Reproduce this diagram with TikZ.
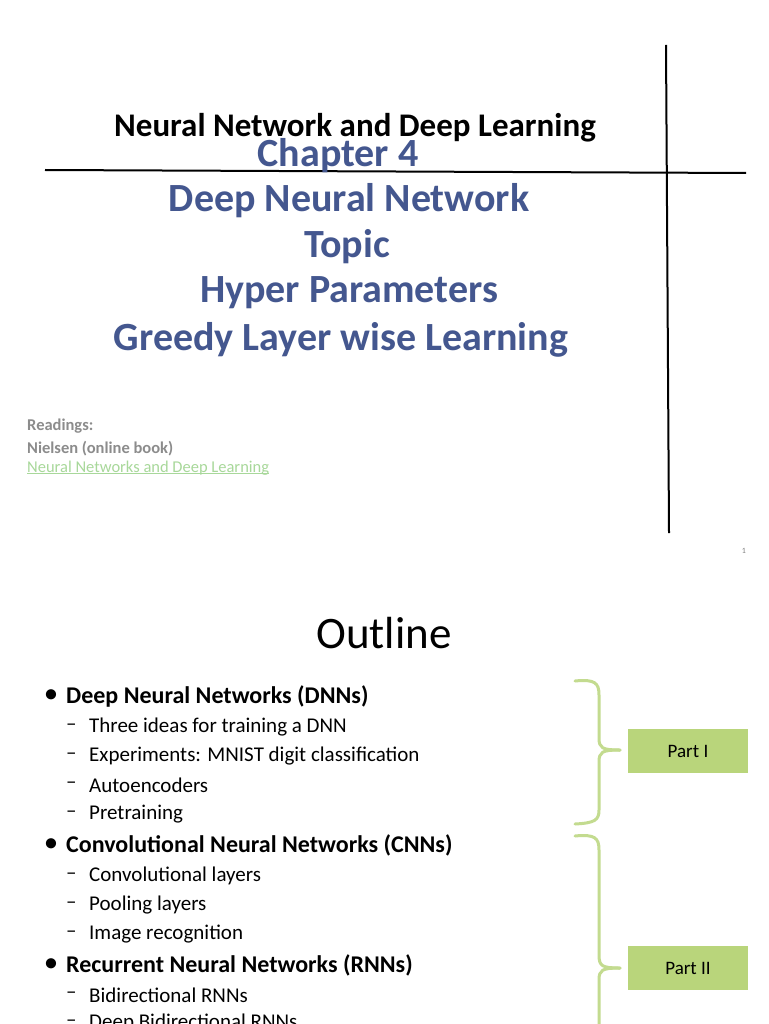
\documentclass[tikz,border=0pt]{standalone}
\usepackage{fontspec}
\setmainfont{Carlito}
\begin{document}
\begin{tikzpicture}[x=1pt,y=-1pt,
  ttl/.style={text=titleblue,font=\fontsize{40}{44}\selectfont\bfseries,inner sep=0},
  bul/.style={anchor=west,font=\fontsize{24}{28}\selectfont\bfseries,inner sep=0},
  sub/.style={anchor=west,font=\fontsize{21}{24}\selectfont,inner sep=0},
  brace/.style={draw=partgreen!85!white,line width=3pt,line cap=round},
  partbox/.style={fill=partgreen,minimum width=120pt,minimum height=44pt,font=\fontsize{19}{22}\selectfont,inner sep=0},
  read/.style={anchor=west,text=gray!90,font=\fontsize{16.5}{19}\selectfont\bfseries,inner sep=0}]
\definecolor{titleblue}{HTML}{44578F}
\definecolor{partgreen}{HTML}{B9D57B}
\definecolor{linkgreen}{HTML}{A8D89A}
\useasboundingbox (0,0) rectangle (768,1024);
\fill[white] (0,0) rectangle (768,1024);
\coordinate (v1) at (666,45); \coordinate (v2) at (669,533);
\coordinate (h1) at (45,170); \coordinate (h2) at (746,173);
\draw[line width=2pt] (v1) -- (v2);
\draw[line width=2pt] (h1) -- (h2);
\node[font=\fontsize{33}{36}\selectfont\bfseries,inner sep=0] (t0) at (355,128) {Neural Network and Deep Learning};
\node[ttl] (t1) at (338,156) {Chapter 4};
\node[ttl] (t2) at (349,201) {Deep Neural Network};
\node[ttl] (t3) at (347,247) {Topic};
\node[ttl] (t4) at (349,293) {Hyper Parameters};
\node[ttl] (t5) at (341,340) {Greedy Layer wise Learning};
\node[read] (r1) at (27,426) {Readings:};
\node[read] (r2) at (27,449) {Nielsen (online book)};
\node[read,text=linkgreen,font=\fontsize{16.5}{19}\selectfont] (r3) at (27,468) {Neural Networks and Deep Learning};
\draw[linkgreen,line width=0.8pt] ([yshift=1.5pt]r3.south west) -- ([yshift=1.5pt]r3.south east);
\node[font=\fontsize{8}{9}\selectfont,text=gray] (pg) at (744,551) {1};
\node[font=\fontsize{45}{50}\selectfont,inner sep=0] (out) at (384,633) {Outline};
\foreach \y/\t [count=\i] in {696/Deep Neural Networks (DNNs),845/Convolutional Neural Networks (CNNs),965/Recurrent Neural Networks (RNNs)}{
  \node[bul] (bd\i) at (45,\y) {•};
  \node[bul] (b\i) at (66,\y) {\t};}
\foreach \y/\t [count=\i] in {727/Three ideas for training a DNN,756/Experiments: MNIST digit classification,785/Autoencoders,814/Pretraining,876/Convolutional layers,905/Pooling layers,934/Image recognition,995/Bidirectional RNNs,1023/Deep Bidirectional RNNs}{
  \node[sub] (sd\i) at (66,\y) {–};
  \node[sub] (s\i) at (89,\y) {\t};}
\node[partbox] (p1) at (688,751) {Part I};
\node[partbox] (p2) at (688,968) {Part II};
\draw[brace] (575,681) .. controls (595,679) and (599,683) .. (599,695) -- (599,738) .. controls (599,748) and (602,750) .. (620,750);
\draw[brace] (620,750) .. controls (602,750) and (599,752) .. (599,762) -- (599,810) .. controls (599,820) and (595,823) .. (575,824);
\draw[brace] (575,836) .. controls (595,834) and (599,838) .. (599,850) -- (599,955) .. controls (599,966) and (602,968) .. (620,968);
\draw[brace] (620,968) .. controls (602,968) and (599,970) .. (599,980) -- (599,1030);
\end{tikzpicture}
\end{document}
